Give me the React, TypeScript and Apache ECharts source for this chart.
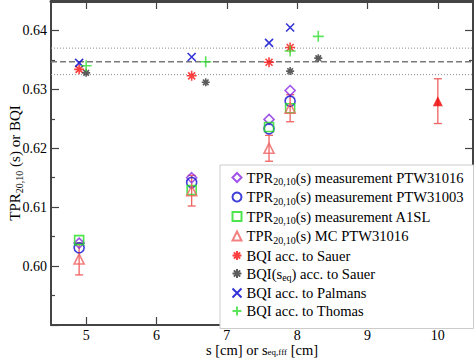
import React, { useEffect, useRef } from "react";
import * as echarts from "echarts";

// measurement positions s [cm]
const measX = [4.9, 6.5, 7.6, 7.9];
const ptw31016 = [0.6039, 0.615, 0.6249, 0.6298];
const ptw31003 = [0.6031, 0.6142, 0.6233, 0.628];
const a1sl = [0.6044, 0.6129, 0.6236, 0.6268];
const mcY = [0.6012, 0.6128, 0.62, 0.6268];
const mcErr = [0.0027, 0.0026, 0.0022, 0.0023];
const mcRefX = [10.0];
const mcRefY = [0.628];
const mcRefErr = [0.0038];

const sauerX = [4.9, 6.5, 7.6, 7.9];
const sauerY = [0.6334, 0.6323, 0.6346, 0.6371];
const seqX = [5.0, 6.7, 7.9, 8.3];
const sauerSeqY = [0.6328, 0.6312, 0.6331, 0.6353];
const palmansX = [4.9, 6.5, 7.6, 7.9];
const palmansY = [0.6345, 0.6355, 0.6379, 0.6405];
const thomasX = [5.0, 6.7, 7.9, 8.3];
const thomasY = [0.634, 0.6347, 0.6365, 0.639];

const refLine = 0.6347;
const refBand = [0.637, 0.6325];

const xMin = 4.5;
const xMax = 10.5;
const xTicks = [5, 6, 7, 8, 9, 10];
const yTicks = [0.6, 0.61, 0.62, 0.63, 0.64];

const names = [
  "TPR{sub|20,10}(s) measurement PTW31016",
  "TPR{sub|20,10}(s) measurement PTW31003",
  "TPR{sub|20,10}(s) measurement A1SL",
  "TPR{sub|20,10}(s) MC PTW31016",
  "BQI acc. to Sauer",
  "BQI(s{sub|eq}) acc. to Sauer",
  "BQI acc. to Palmans",
  "BQI acc. to Thomas",
];

const FONT = "Liberation Serif";
const X_PATH = "path://M0,0L10,10M10,0L0,10";
const PLUS_PATH = "path://M5,0L5,10M0,5L10,5";
const STAR_PATH = "path://M5,0L5,10M0,5L10,5M1.5,1.5L8.5,8.5M8.5,1.5L1.5,8.5";

const pairs = (xs: number[], ys: number[]) => xs.map((x, i) => [x, ys[i]]);

export default function App() {
  const ref = useRef<HTMLDivElement>(null);
  useEffect(() => {
    if (!ref.current) return;
    const chart = echarts.init(ref.current, undefined, { renderer: "svg" });
    const axisLine = { show: true, lineStyle: { color: "#444", width: 2 } };
    const errColor = "#f06262";
    const subRich = { sub: { fontFamily: FONT, fontSize: 10, padding: [8, 0, 0, 0], color: "#000" } };
    const subRichX = { sub: { fontFamily: FONT, fontSize: 9, padding: [5, 0, 0, 0], color: "#000" } };
    const hollow = (name: string, symbol: string, size: number, color: string, data: number[][]) => ({
      name,
      type: "scatter",
      symbol,
      symbolSize: size,
      z: 3,
      itemStyle: { color: "none", borderColor: color, borderWidth: 1.6 },
      data,
    });
    const hLine = (y: number, lineStyle: any) => ({
      type: "line",
      silent: true,
      z: 1,
      symbol: "none",
      lineStyle,
      data: [
        [xMin, y],
        [xMax, y],
      ],
    });
    const option: any = {
      animation: false,
      grid: { left: 51, right: 1, top: 1, bottom: 34, outerBoundsMode: "none", containLabel: false },
      xAxis: [
        {
          type: "value",
          min: xMin,
          max: xMax,
          name: "s [cm] or s{sub|eq,fff} [cm]",
          nameLocation: "middle",
          nameGap: 17,
          nameMoveOverlap: false,
          nameTextStyle: { fontFamily: FONT, fontSize: 14.5, color: "#000", rich: subRichX },
          axisLine,
          splitLine: { show: false },
          axisTick: { inside: true, length: 8, customValues: xTicks, lineStyle: { color: "#444", width: 1.2 } },
          axisLabel: { customValues: xTicks, fontFamily: FONT, fontSize: 14, color: "#000", margin: 3 },
        },
        {
          type: "value",
          position: "top",
          min: xMin,
          max: xMax,
          axisLine: { show: true, lineStyle: { color: "#444", width: 3 } },
          splitLine: { show: false },
          axisTick: { inside: true, length: 8, customValues: xTicks, lineStyle: { color: "#444", width: 1.2 } },
          axisLabel: { show: false },
        },
      ],
      yAxis: [
        {
          type: "value",
          min: 0.59,
          max: 0.645,
          interval: 0.01,
          name: "TPR{sub|20,10} (s) or BQI",
          nameLocation: "middle",
          nameGap: 27,
          nameMoveOverlap: false,
          nameTextStyle: { fontFamily: FONT, fontSize: 15, color: "#000", rich: subRich },
          axisLine,
          splitLine: { show: false },
          axisTick: { inside: true, length: 8, lineStyle: { color: "#444", width: 1.2 } },
          minorTick: { show: true, splitNumber: 2, length: 4, lineStyle: { color: "#444", width: 1.2 } },
          axisLabel: {
            customValues: yTicks,
            formatter: (v: number) => v.toFixed(2),
            fontFamily: FONT,
            fontSize: 14,
            color: "#000",
            margin: 4,
          },
        },
        {
          type: "value",
          position: "right",
          min: 0.59,
          max: 0.645,
          interval: 0.01,
          axisLine,
          splitLine: { show: false },
          axisTick: { inside: true, length: 8, lineStyle: { color: "#444", width: 1.2 } },
          minorTick: { show: true, splitNumber: 2, length: 4, lineStyle: { color: "#444", width: 1.2 } },
          axisLabel: { show: false },
        },
      ],
      legend: {
        orient: "vertical",
        left: 220,
        top: 165,
        padding: [5, 10, 10, 10],
        itemWidth: 9,
        itemHeight: 9,
        itemGap: 3,
        backgroundColor: "#fff",
        borderColor: "#ccc",
        borderWidth: 1,
        borderRadius: 0,
        data: names,
        textStyle: { fontFamily: FONT, fontSize: 14.6, color: "#000", rich: subRich },
      },
      series: [
        hLine(refLine, { type: [6, 3], color: "#7a7a7a", width: 1.5 }),
        hLine(refBand[0], { type: [1, 2], color: "#8a8a8a", width: 1 }),
        hLine(refBand[1], { type: [1, 2], color: "#8a8a8a", width: 1 }),
        {
          type: "custom",
          z: 2,
          silent: true,
          renderItem: (params: any, api: any) => {
            const x = api.value(0);
            const y = api.value(1);
            const e = api.value(2);
            const t = api.coord([x, y + e]);
            const b = api.coord([x, y - e]);
            const hw = 4;
            const st = { stroke: errColor, lineWidth: 1.3 };
            return {
              type: "group",
              children: [
                { type: "line", shape: { x1: t[0], y1: t[1], x2: b[0], y2: b[1] }, style: st },
                { type: "line", shape: { x1: t[0] - hw, y1: t[1], x2: t[0] + hw, y2: t[1] }, style: st },
                { type: "line", shape: { x1: b[0] - hw, y1: b[1], x2: b[0] + hw, y2: b[1] }, style: st },
              ],
            };
          },
          data: [
            ...measX.map((x, i) => [x, mcY[i], mcErr[i]]),
            ...mcRefX.map((x, i) => [x, mcRefY[i], mcRefErr[i]]),
          ],
        },
        hollow(names[0], "diamond", 10, "#8a2be2", pairs(measX, ptw31016)),
        hollow(names[1], "circle", 10, "#1010d0", pairs(measX, ptw31003)),
        hollow(names[2], "rect", 9, "#22dd22", pairs(measX, a1sl)),
        hollow(names[3], "triangle", 10, errColor, pairs(measX, mcY)),
        {
          name: "MC reference",
          type: "scatter",
          symbol: "triangle",
          symbolSize: 10,
          z: 3,
          itemStyle: { color: "#ee0000" },
          data: pairs(mcRefX, mcRefY),
        },
        hollow(names[4], STAR_PATH, 10, "#ff1010", pairs(sauerX, sauerY)),
        hollow(names[5], STAR_PATH, 8, "#333333", pairs(seqX, sauerSeqY)),
        hollow(names[6], X_PATH, 8, "#0000cc", pairs(palmansX, palmansY)),
        hollow(names[7], PLUS_PATH, 11, "#33dd33", pairs(thomasX, thomasY)),
      ],
    };
    chart.setOption(option);
    return () => chart.dispose();
  }, []);
  return <div ref={ref} style={{ width: 474, height: 359, position: "absolute", left: 0, top: 0 }} />;
}
